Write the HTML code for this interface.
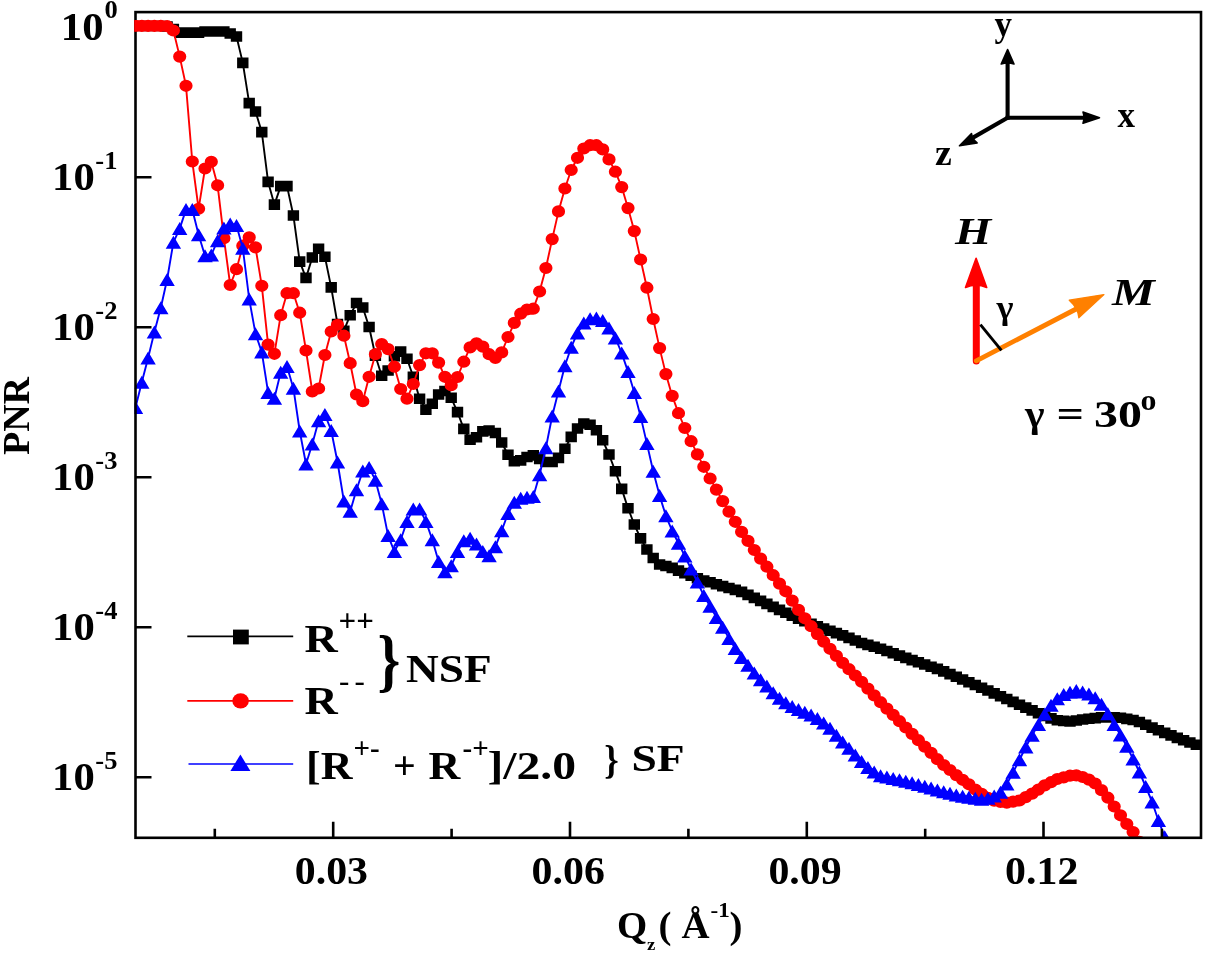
<!DOCTYPE html>
<html><head><meta charset="utf-8"><title>PNR</title>
<style>
html,body{margin:0;padding:0;background:#fff}
svg{display:block}
text{font-family:"Liberation Serif","DejaVu Serif",serif;font-weight:bold;fill:#000}
</style></head><body>
<svg width="1205" height="954" viewBox="0 0 1205 954">
<rect width="1205" height="954" fill="#fff"/>
<defs><clipPath id="cp"><rect x="134.5" y="12.1" width="1066.5" height="826.2"/></clipPath></defs>
<g clip-path="url(#cp)">
<polyline fill="none" stroke="#000" stroke-width="1.9" stroke-linejoin="round" points="135.5,26 141.8,26 148.1,26 154.4,26 160.8,26 167.1,26.5 173.4,29 179.7,32.6 186,32.6 192.3,32.6 198.6,32.6 205,31.5 211.3,31.5 217.6,31.5 223.9,31.5 230.2,33.5 236.5,36.5 242.8,62.9 249.2,103.1 255.5,111.5 261.8,132.1 268.1,181.9 274.4,204.6 280.7,186.1 287,186.1 293.4,215.5 299.7,261.6 306,277.9 312.3,257.5 318.6,248.8 324.9,256.7 331.2,287.4 337.5,324 343.9,330.7 350.2,315.2 356.5,303 362.8,307.5 369.1,327 375.4,355.8 381.7,375.8 388.1,370.5 394.4,356.2 400.7,351.6 407,358.8 413.3,376.8 419.6,398.7 425.9,409.6 432.3,403.7 438.6,394.5 444.9,391 451.2,397.8 457.5,412.1 463.8,428.9 470.1,439.8 476.5,437.2 482.8,431.4 489.1,430.5 495.4,433 501.7,442.5 508,454.7 514.3,461.2 520.7,460.4 527,457 533.3,455.4 539.6,459 545.9,462 552.2,462 558.5,457.9 564.9,448.7 571.2,436.9 577.5,428.5 583.8,423.5 590.1,424.8 596.4,430.2 602.7,440.3 609,454.5 615.4,471.3 621.7,488.9 628,508.2 634.3,524.5 640.6,538.4 646.9,549.5 653.2,558 659.6,564.5 665.9,566 672.2,567.9 678.5,570.6 684.8,573.1 691.1,575.7 697.4,578.3 703.8,580.5 710.1,582.3 716.4,584.2 722.7,586.1 729,588 735.3,589.9 741.6,591.9 748,594.9 754.3,597.9 760.6,600.9 766.9,603.9 773.2,606.9 779.5,609.9 785.8,612.8 792.2,615.7 798.5,618.6 804.8,621.2 811.1,623.7 817.4,626.2 823.7,628.6 830,630.8 836.4,633.1 842.7,635.4 849,637.9 855.3,640.5 861.6,643 867.9,644.9 874.2,646.8 880.6,648.7 886.9,651 893.2,653.3 899.5,655.6 905.8,657.9 912.1,660.1 918.4,662.3 924.8,664.5 931.1,666.7 937.4,668.9 943.7,671.4 950,674.1 956.3,676.8 962.6,679.5 968.9,682.2 975.3,685 981.6,687.8 987.9,690.5 994.2,693.4 1000.5,696.2 1006.8,699 1013.1,701.9 1019.5,704.7 1025.8,707.6 1032.1,710.4 1038.4,713.2 1044.7,716 1051,718.4 1057.3,720.2 1063.7,720.9 1070,721.5 1076.3,720.5 1082.6,719.5 1088.9,718.7 1095.2,718.1 1101.5,717.4 1107.9,717.4 1114.2,717.4 1120.5,717.8 1126.8,718.9 1133.1,720 1139.4,722 1145.7,724.8 1152.1,727.6 1158.4,730.3 1164.7,732.9 1171,735.4 1177.3,737.9 1183.6,740.2 1189.9,742.5 1196.3,744.8"/>
<path fill="#000" d="M129.8 20.7h11.4v10.6h-11.4zM136.1 20.7h11.4v10.6h-11.4zM142.4 20.7h11.4v10.6h-11.4zM148.7 20.7h11.4v10.6h-11.4zM155.1 20.7h11.4v10.6h-11.4zM161.4 21.2h11.4v10.6h-11.4zM167.7 23.7h11.4v10.6h-11.4zM174 27.3h11.4v10.6h-11.4zM180.3 27.3h11.4v10.6h-11.4zM186.6 27.3h11.4v10.6h-11.4zM192.9 27.3h11.4v10.6h-11.4zM199.3 26.2h11.4v10.6h-11.4zM205.6 26.2h11.4v10.6h-11.4zM211.9 26.2h11.4v10.6h-11.4zM218.2 26.2h11.4v10.6h-11.4zM224.5 28.2h11.4v10.6h-11.4zM230.8 31.2h11.4v10.6h-11.4zM237.1 57.6h11.4v10.6h-11.4zM243.5 97.8h11.4v10.6h-11.4zM249.8 106.2h11.4v10.6h-11.4zM256.1 126.8h11.4v10.6h-11.4zM262.4 176.6h11.4v10.6h-11.4zM268.7 199.3h11.4v10.6h-11.4zM275 180.8h11.4v10.6h-11.4zM281.3 180.8h11.4v10.6h-11.4zM287.7 210.2h11.4v10.6h-11.4zM294 256.3h11.4v10.6h-11.4zM300.3 272.6h11.4v10.6h-11.4zM306.6 252.2h11.4v10.6h-11.4zM312.9 243.5h11.4v10.6h-11.4zM319.2 251.4h11.4v10.6h-11.4zM325.5 282.1h11.4v10.6h-11.4zM331.8 318.7h11.4v10.6h-11.4zM338.2 325.4h11.4v10.6h-11.4zM344.5 309.9h11.4v10.6h-11.4zM350.8 297.7h11.4v10.6h-11.4zM357.1 302.2h11.4v10.6h-11.4zM363.4 321.7h11.4v10.6h-11.4zM369.7 350.5h11.4v10.6h-11.4zM376 370.5h11.4v10.6h-11.4zM382.4 365.2h11.4v10.6h-11.4zM388.7 350.9h11.4v10.6h-11.4zM395 346.3h11.4v10.6h-11.4zM401.3 353.5h11.4v10.6h-11.4zM407.6 371.5h11.4v10.6h-11.4zM413.9 393.4h11.4v10.6h-11.4zM420.2 404.3h11.4v10.6h-11.4zM426.6 398.4h11.4v10.6h-11.4zM432.9 389.2h11.4v10.6h-11.4zM439.2 385.7h11.4v10.6h-11.4zM445.5 392.5h11.4v10.6h-11.4zM451.8 406.8h11.4v10.6h-11.4zM458.1 423.6h11.4v10.6h-11.4zM464.4 434.5h11.4v10.6h-11.4zM470.8 431.9h11.4v10.6h-11.4zM477.1 426.1h11.4v10.6h-11.4zM483.4 425.2h11.4v10.6h-11.4zM489.7 427.7h11.4v10.6h-11.4zM496 437.2h11.4v10.6h-11.4zM502.3 449.4h11.4v10.6h-11.4zM508.6 455.9h11.4v10.6h-11.4zM515 455.1h11.4v10.6h-11.4zM521.3 451.7h11.4v10.6h-11.4zM527.6 450.1h11.4v10.6h-11.4zM533.9 453.7h11.4v10.6h-11.4zM540.2 456.7h11.4v10.6h-11.4zM546.5 456.7h11.4v10.6h-11.4zM552.8 452.6h11.4v10.6h-11.4zM559.2 443.4h11.4v10.6h-11.4zM565.5 431.6h11.4v10.6h-11.4zM571.8 423.2h11.4v10.6h-11.4zM578.1 418.2h11.4v10.6h-11.4zM584.4 419.5h11.4v10.6h-11.4zM590.7 424.9h11.4v10.6h-11.4zM597 435h11.4v10.6h-11.4zM603.3 449.2h11.4v10.6h-11.4zM609.7 466h11.4v10.6h-11.4zM616 483.6h11.4v10.6h-11.4zM622.3 502.9h11.4v10.6h-11.4zM628.6 519.2h11.4v10.6h-11.4zM634.9 533.1h11.4v10.6h-11.4zM641.2 544.2h11.4v10.6h-11.4zM647.5 552.7h11.4v10.6h-11.4zM653.9 559.2h11.4v10.6h-11.4zM660.2 560.7h11.4v10.6h-11.4zM666.5 562.6h11.4v10.6h-11.4zM672.8 565.3h11.4v10.6h-11.4zM679.1 567.8h11.4v10.6h-11.4zM685.4 570.4h11.4v10.6h-11.4zM691.7 573h11.4v10.6h-11.4zM698.1 575.2h11.4v10.6h-11.4zM704.4 577h11.4v10.6h-11.4zM710.7 578.9h11.4v10.6h-11.4zM717 580.8h11.4v10.6h-11.4zM723.3 582.7h11.4v10.6h-11.4zM729.6 584.6h11.4v10.6h-11.4zM735.9 586.6h11.4v10.6h-11.4zM742.3 589.6h11.4v10.6h-11.4zM748.6 592.6h11.4v10.6h-11.4zM754.9 595.6h11.4v10.6h-11.4zM761.2 598.6h11.4v10.6h-11.4zM767.5 601.6h11.4v10.6h-11.4zM773.8 604.6h11.4v10.6h-11.4zM780.1 607.5h11.4v10.6h-11.4zM786.5 610.4h11.4v10.6h-11.4zM792.8 613.3h11.4v10.6h-11.4zM799.1 615.9h11.4v10.6h-11.4zM805.4 618.4h11.4v10.6h-11.4zM811.7 620.9h11.4v10.6h-11.4zM818 623.3h11.4v10.6h-11.4zM824.3 625.5h11.4v10.6h-11.4zM830.7 627.8h11.4v10.6h-11.4zM837 630.1h11.4v10.6h-11.4zM843.3 632.6h11.4v10.6h-11.4zM849.6 635.2h11.4v10.6h-11.4zM855.9 637.7h11.4v10.6h-11.4zM862.2 639.6h11.4v10.6h-11.4zM868.5 641.5h11.4v10.6h-11.4zM874.9 643.4h11.4v10.6h-11.4zM881.2 645.7h11.4v10.6h-11.4zM887.5 648h11.4v10.6h-11.4zM893.8 650.3h11.4v10.6h-11.4zM900.1 652.6h11.4v10.6h-11.4zM906.4 654.8h11.4v10.6h-11.4zM912.7 657h11.4v10.6h-11.4zM919 659.2h11.4v10.6h-11.4zM925.4 661.4h11.4v10.6h-11.4zM931.7 663.6h11.4v10.6h-11.4zM938 666.1h11.4v10.6h-11.4zM944.3 668.8h11.4v10.6h-11.4zM950.6 671.5h11.4v10.6h-11.4zM956.9 674.2h11.4v10.6h-11.4zM963.2 676.9h11.4v10.6h-11.4zM969.6 679.7h11.4v10.6h-11.4zM975.9 682.5h11.4v10.6h-11.4zM982.2 685.2h11.4v10.6h-11.4zM988.5 688.1h11.4v10.6h-11.4zM994.8 690.9h11.4v10.6h-11.4zM1001.1 693.7h11.4v10.6h-11.4zM1007.4 696.6h11.4v10.6h-11.4zM1013.8 699.4h11.4v10.6h-11.4zM1020.1 702.3h11.4v10.6h-11.4zM1026.4 705.1h11.4v10.6h-11.4zM1032.7 707.9h11.4v10.6h-11.4zM1039 710.7h11.4v10.6h-11.4zM1045.3 713.1h11.4v10.6h-11.4zM1051.6 714.9h11.4v10.6h-11.4zM1058 715.6h11.4v10.6h-11.4zM1064.3 716.2h11.4v10.6h-11.4zM1070.6 715.2h11.4v10.6h-11.4zM1076.9 714.2h11.4v10.6h-11.4zM1083.2 713.4h11.4v10.6h-11.4zM1089.5 712.8h11.4v10.6h-11.4zM1095.8 712.1h11.4v10.6h-11.4zM1102.2 712.1h11.4v10.6h-11.4zM1108.5 712.1h11.4v10.6h-11.4zM1114.8 712.5h11.4v10.6h-11.4zM1121.1 713.6h11.4v10.6h-11.4zM1127.4 714.7h11.4v10.6h-11.4zM1133.7 716.7h11.4v10.6h-11.4zM1140 719.5h11.4v10.6h-11.4zM1146.4 722.3h11.4v10.6h-11.4zM1152.7 725h11.4v10.6h-11.4zM1159 727.6h11.4v10.6h-11.4zM1165.3 730.1h11.4v10.6h-11.4zM1171.6 732.6h11.4v10.6h-11.4zM1177.9 734.9h11.4v10.6h-11.4zM1184.2 737.2h11.4v10.6h-11.4zM1190.6 739.5h11.4v10.6h-11.4z"/>
<polyline fill="none" stroke="#f00" stroke-width="1.9" stroke-linejoin="round" points="135.5,25.9 141.8,25.9 148.1,25.9 154.4,25.9 160.8,25.9 167.1,26.2 173.4,30.5 179.7,56.6 186,85.8 192.3,161.5 198.6,208.8 205,168.5 211.3,161.8 217.6,185.3 223.9,238.2 230.2,285 236.5,269.2 242.8,245.7 249.2,237.3 255.5,247.4 261.8,285.8 268.1,344.6 274.4,353.8 280.7,315.2 287,293.2 293.4,293.2 299.7,312.7 306,350.5 312.3,391.5 318.6,388.5 324.9,355 331.2,331.5 337.5,324.8 343.9,335.7 350.2,363.2 356.5,394.5 362.8,401.2 369.1,376.8 375.4,354.2 381.7,344.1 388.1,349.1 394.4,366.7 400.7,389 407,398.7 413.3,384 419.6,365.1 425.9,353.3 432.3,353.3 438.6,362.6 444.9,376.8 451.2,385.2 457.5,377 463.8,361.7 470.1,347.4 476.5,343.3 482.8,346.6 489.1,354.2 495.4,358 501.7,352.4 508,337 514.3,322.9 520.7,313.7 527,309.5 533.3,308.7 539.6,291.5 545.9,268 552.2,239.1 558.5,211.4 564.9,188.5 571.2,170 577.5,157.8 583.8,148.5 590.1,145.2 596.4,145.2 602.7,149.4 609,159.4 615.4,171.7 621.7,187.1 628,208.1 634.3,231.1 640.6,259.5 646.9,287.7 653.2,319 659.6,348.1 665.9,374.1 672.2,395.9 678.5,413.2 684.8,428 691.1,441.2 697.4,454.4 703.8,466.8 710.1,478.5 716.4,489.6 722.7,501.1 729,511.7 735.3,521.8 741.6,531.9 748,540.9 754.3,550 760.6,558.6 766.9,566.7 773.2,575.2 779.5,583.6 785.8,591.3 792.2,600.6 798.5,609.9 804.8,618.3 811.1,626.2 817.4,634.1 823.7,641.7 830,648.8 836.4,655.9 842.7,662.9 849,669.2 855.3,675.5 861.6,681.8 867.9,688.6 874.2,695.4 880.6,702.2 886.9,708.6 893.2,714.9 899.5,721.2 905.8,727.5 912.1,733.9 918.4,740.2 924.8,746.6 931.1,752.9 937.4,759.2 943.7,765 950,770 956.3,775.1 962.6,779.8 968.9,784.3 975.3,789.5 981.6,793.8 987.9,797.9 994.2,800.6 1000.5,802 1006.8,802.7 1013.1,801.6 1019.5,800.5 1025.8,797.1 1032.1,793.7 1038.4,789.6 1044.7,785.4 1051,782.2 1057.3,779 1063.7,777.4 1070,775.7 1076.3,775.4 1082.6,777 1088.9,779.7 1095.2,783.5 1101.5,790.2 1107.9,797.7 1114.2,806.5 1120.5,815.3 1126.8,824 1133.1,832 1139.4,841.8 1145.7,852.5 1152.1,864.1 1158.4,876.7 1164.7,889.4"/>
<path fill="#f00" d="M128.9 25.9a6.6 6.1 0 1 0 13.2 0a6.6 6.1 0 1 0 -13.2 0zM135.2 25.9a6.6 6.1 0 1 0 13.2 0a6.6 6.1 0 1 0 -13.2 0zM141.5 25.9a6.6 6.1 0 1 0 13.2 0a6.6 6.1 0 1 0 -13.2 0zM147.8 25.9a6.6 6.1 0 1 0 13.2 0a6.6 6.1 0 1 0 -13.2 0zM154.2 25.9a6.6 6.1 0 1 0 13.2 0a6.6 6.1 0 1 0 -13.2 0zM160.5 26.2a6.6 6.1 0 1 0 13.2 0a6.6 6.1 0 1 0 -13.2 0zM166.8 30.5a6.6 6.1 0 1 0 13.2 0a6.6 6.1 0 1 0 -13.2 0zM173.1 56.6a6.6 6.1 0 1 0 13.2 0a6.6 6.1 0 1 0 -13.2 0zM179.4 85.8a6.6 6.1 0 1 0 13.2 0a6.6 6.1 0 1 0 -13.2 0zM185.7 161.5a6.6 6.1 0 1 0 13.2 0a6.6 6.1 0 1 0 -13.2 0zM192 208.8a6.6 6.1 0 1 0 13.2 0a6.6 6.1 0 1 0 -13.2 0zM198.4 168.5a6.6 6.1 0 1 0 13.2 0a6.6 6.1 0 1 0 -13.2 0zM204.7 161.8a6.6 6.1 0 1 0 13.2 0a6.6 6.1 0 1 0 -13.2 0zM211 185.3a6.6 6.1 0 1 0 13.2 0a6.6 6.1 0 1 0 -13.2 0zM217.3 238.2a6.6 6.1 0 1 0 13.2 0a6.6 6.1 0 1 0 -13.2 0zM223.6 285a6.6 6.1 0 1 0 13.2 0a6.6 6.1 0 1 0 -13.2 0zM229.9 269.2a6.6 6.1 0 1 0 13.2 0a6.6 6.1 0 1 0 -13.2 0zM236.2 245.7a6.6 6.1 0 1 0 13.2 0a6.6 6.1 0 1 0 -13.2 0zM242.6 237.3a6.6 6.1 0 1 0 13.2 0a6.6 6.1 0 1 0 -13.2 0zM248.9 247.4a6.6 6.1 0 1 0 13.2 0a6.6 6.1 0 1 0 -13.2 0zM255.2 285.8a6.6 6.1 0 1 0 13.2 0a6.6 6.1 0 1 0 -13.2 0zM261.5 344.6a6.6 6.1 0 1 0 13.2 0a6.6 6.1 0 1 0 -13.2 0zM267.8 353.8a6.6 6.1 0 1 0 13.2 0a6.6 6.1 0 1 0 -13.2 0zM274.1 315.2a6.6 6.1 0 1 0 13.2 0a6.6 6.1 0 1 0 -13.2 0zM280.4 293.2a6.6 6.1 0 1 0 13.2 0a6.6 6.1 0 1 0 -13.2 0zM286.8 293.2a6.6 6.1 0 1 0 13.2 0a6.6 6.1 0 1 0 -13.2 0zM293.1 312.7a6.6 6.1 0 1 0 13.2 0a6.6 6.1 0 1 0 -13.2 0zM299.4 350.5a6.6 6.1 0 1 0 13.2 0a6.6 6.1 0 1 0 -13.2 0zM305.7 391.5a6.6 6.1 0 1 0 13.2 0a6.6 6.1 0 1 0 -13.2 0zM312 388.5a6.6 6.1 0 1 0 13.2 0a6.6 6.1 0 1 0 -13.2 0zM318.3 355a6.6 6.1 0 1 0 13.2 0a6.6 6.1 0 1 0 -13.2 0zM324.6 331.5a6.6 6.1 0 1 0 13.2 0a6.6 6.1 0 1 0 -13.2 0zM330.9 324.8a6.6 6.1 0 1 0 13.2 0a6.6 6.1 0 1 0 -13.2 0zM337.3 335.7a6.6 6.1 0 1 0 13.2 0a6.6 6.1 0 1 0 -13.2 0zM343.6 363.2a6.6 6.1 0 1 0 13.2 0a6.6 6.1 0 1 0 -13.2 0zM349.9 394.5a6.6 6.1 0 1 0 13.2 0a6.6 6.1 0 1 0 -13.2 0zM356.2 401.2a6.6 6.1 0 1 0 13.2 0a6.6 6.1 0 1 0 -13.2 0zM362.5 376.8a6.6 6.1 0 1 0 13.2 0a6.6 6.1 0 1 0 -13.2 0zM368.8 354.2a6.6 6.1 0 1 0 13.2 0a6.6 6.1 0 1 0 -13.2 0zM375.1 344.1a6.6 6.1 0 1 0 13.2 0a6.6 6.1 0 1 0 -13.2 0zM381.5 349.1a6.6 6.1 0 1 0 13.2 0a6.6 6.1 0 1 0 -13.2 0zM387.8 366.7a6.6 6.1 0 1 0 13.2 0a6.6 6.1 0 1 0 -13.2 0zM394.1 389a6.6 6.1 0 1 0 13.2 0a6.6 6.1 0 1 0 -13.2 0zM400.4 398.7a6.6 6.1 0 1 0 13.2 0a6.6 6.1 0 1 0 -13.2 0zM406.7 384a6.6 6.1 0 1 0 13.2 0a6.6 6.1 0 1 0 -13.2 0zM413 365.1a6.6 6.1 0 1 0 13.2 0a6.6 6.1 0 1 0 -13.2 0zM419.3 353.3a6.6 6.1 0 1 0 13.2 0a6.6 6.1 0 1 0 -13.2 0zM425.7 353.3a6.6 6.1 0 1 0 13.2 0a6.6 6.1 0 1 0 -13.2 0zM432 362.6a6.6 6.1 0 1 0 13.2 0a6.6 6.1 0 1 0 -13.2 0zM438.3 376.8a6.6 6.1 0 1 0 13.2 0a6.6 6.1 0 1 0 -13.2 0zM444.6 385.2a6.6 6.1 0 1 0 13.2 0a6.6 6.1 0 1 0 -13.2 0zM450.9 377a6.6 6.1 0 1 0 13.2 0a6.6 6.1 0 1 0 -13.2 0zM457.2 361.7a6.6 6.1 0 1 0 13.2 0a6.6 6.1 0 1 0 -13.2 0zM463.5 347.4a6.6 6.1 0 1 0 13.2 0a6.6 6.1 0 1 0 -13.2 0zM469.9 343.3a6.6 6.1 0 1 0 13.2 0a6.6 6.1 0 1 0 -13.2 0zM476.2 346.6a6.6 6.1 0 1 0 13.2 0a6.6 6.1 0 1 0 -13.2 0zM482.5 354.2a6.6 6.1 0 1 0 13.2 0a6.6 6.1 0 1 0 -13.2 0zM488.8 358a6.6 6.1 0 1 0 13.2 0a6.6 6.1 0 1 0 -13.2 0zM495.1 352.4a6.6 6.1 0 1 0 13.2 0a6.6 6.1 0 1 0 -13.2 0zM501.4 337a6.6 6.1 0 1 0 13.2 0a6.6 6.1 0 1 0 -13.2 0zM507.7 322.9a6.6 6.1 0 1 0 13.2 0a6.6 6.1 0 1 0 -13.2 0zM514.1 313.7a6.6 6.1 0 1 0 13.2 0a6.6 6.1 0 1 0 -13.2 0zM520.4 309.5a6.6 6.1 0 1 0 13.2 0a6.6 6.1 0 1 0 -13.2 0zM526.7 308.7a6.6 6.1 0 1 0 13.2 0a6.6 6.1 0 1 0 -13.2 0zM533 291.5a6.6 6.1 0 1 0 13.2 0a6.6 6.1 0 1 0 -13.2 0zM539.3 268a6.6 6.1 0 1 0 13.2 0a6.6 6.1 0 1 0 -13.2 0zM545.6 239.1a6.6 6.1 0 1 0 13.2 0a6.6 6.1 0 1 0 -13.2 0zM551.9 211.4a6.6 6.1 0 1 0 13.2 0a6.6 6.1 0 1 0 -13.2 0zM558.3 188.5a6.6 6.1 0 1 0 13.2 0a6.6 6.1 0 1 0 -13.2 0zM564.6 170a6.6 6.1 0 1 0 13.2 0a6.6 6.1 0 1 0 -13.2 0zM570.9 157.8a6.6 6.1 0 1 0 13.2 0a6.6 6.1 0 1 0 -13.2 0zM577.2 148.5a6.6 6.1 0 1 0 13.2 0a6.6 6.1 0 1 0 -13.2 0zM583.5 145.2a6.6 6.1 0 1 0 13.2 0a6.6 6.1 0 1 0 -13.2 0zM589.8 145.2a6.6 6.1 0 1 0 13.2 0a6.6 6.1 0 1 0 -13.2 0zM596.1 149.4a6.6 6.1 0 1 0 13.2 0a6.6 6.1 0 1 0 -13.2 0zM602.4 159.4a6.6 6.1 0 1 0 13.2 0a6.6 6.1 0 1 0 -13.2 0zM608.8 171.7a6.6 6.1 0 1 0 13.2 0a6.6 6.1 0 1 0 -13.2 0zM615.1 187.1a6.6 6.1 0 1 0 13.2 0a6.6 6.1 0 1 0 -13.2 0zM621.4 208.1a6.6 6.1 0 1 0 13.2 0a6.6 6.1 0 1 0 -13.2 0zM627.7 231.1a6.6 6.1 0 1 0 13.2 0a6.6 6.1 0 1 0 -13.2 0zM634 259.5a6.6 6.1 0 1 0 13.2 0a6.6 6.1 0 1 0 -13.2 0zM640.3 287.7a6.6 6.1 0 1 0 13.2 0a6.6 6.1 0 1 0 -13.2 0zM646.6 319a6.6 6.1 0 1 0 13.2 0a6.6 6.1 0 1 0 -13.2 0zM653 348.1a6.6 6.1 0 1 0 13.2 0a6.6 6.1 0 1 0 -13.2 0zM659.3 374.1a6.6 6.1 0 1 0 13.2 0a6.6 6.1 0 1 0 -13.2 0zM665.6 395.9a6.6 6.1 0 1 0 13.2 0a6.6 6.1 0 1 0 -13.2 0zM671.9 413.2a6.6 6.1 0 1 0 13.2 0a6.6 6.1 0 1 0 -13.2 0zM678.2 428a6.6 6.1 0 1 0 13.2 0a6.6 6.1 0 1 0 -13.2 0zM684.5 441.2a6.6 6.1 0 1 0 13.2 0a6.6 6.1 0 1 0 -13.2 0zM690.8 454.4a6.6 6.1 0 1 0 13.2 0a6.6 6.1 0 1 0 -13.2 0zM697.2 466.8a6.6 6.1 0 1 0 13.2 0a6.6 6.1 0 1 0 -13.2 0zM703.5 478.5a6.6 6.1 0 1 0 13.2 0a6.6 6.1 0 1 0 -13.2 0zM709.8 489.6a6.6 6.1 0 1 0 13.2 0a6.6 6.1 0 1 0 -13.2 0zM716.1 501.1a6.6 6.1 0 1 0 13.2 0a6.6 6.1 0 1 0 -13.2 0zM722.4 511.7a6.6 6.1 0 1 0 13.2 0a6.6 6.1 0 1 0 -13.2 0zM728.7 521.8a6.6 6.1 0 1 0 13.2 0a6.6 6.1 0 1 0 -13.2 0zM735 531.9a6.6 6.1 0 1 0 13.2 0a6.6 6.1 0 1 0 -13.2 0zM741.4 540.9a6.6 6.1 0 1 0 13.2 0a6.6 6.1 0 1 0 -13.2 0zM747.7 550a6.6 6.1 0 1 0 13.2 0a6.6 6.1 0 1 0 -13.2 0zM754 558.6a6.6 6.1 0 1 0 13.2 0a6.6 6.1 0 1 0 -13.2 0zM760.3 566.7a6.6 6.1 0 1 0 13.2 0a6.6 6.1 0 1 0 -13.2 0zM766.6 575.2a6.6 6.1 0 1 0 13.2 0a6.6 6.1 0 1 0 -13.2 0zM772.9 583.6a6.6 6.1 0 1 0 13.2 0a6.6 6.1 0 1 0 -13.2 0zM779.2 591.3a6.6 6.1 0 1 0 13.2 0a6.6 6.1 0 1 0 -13.2 0zM785.6 600.6a6.6 6.1 0 1 0 13.2 0a6.6 6.1 0 1 0 -13.2 0zM791.9 609.9a6.6 6.1 0 1 0 13.2 0a6.6 6.1 0 1 0 -13.2 0zM798.2 618.3a6.6 6.1 0 1 0 13.2 0a6.6 6.1 0 1 0 -13.2 0zM804.5 626.2a6.6 6.1 0 1 0 13.2 0a6.6 6.1 0 1 0 -13.2 0zM810.8 634.1a6.6 6.1 0 1 0 13.2 0a6.6 6.1 0 1 0 -13.2 0zM817.1 641.7a6.6 6.1 0 1 0 13.2 0a6.6 6.1 0 1 0 -13.2 0zM823.4 648.8a6.6 6.1 0 1 0 13.2 0a6.6 6.1 0 1 0 -13.2 0zM829.8 655.9a6.6 6.1 0 1 0 13.2 0a6.6 6.1 0 1 0 -13.2 0zM836.1 662.9a6.6 6.1 0 1 0 13.2 0a6.6 6.1 0 1 0 -13.2 0zM842.4 669.2a6.6 6.1 0 1 0 13.2 0a6.6 6.1 0 1 0 -13.2 0zM848.7 675.5a6.6 6.1 0 1 0 13.2 0a6.6 6.1 0 1 0 -13.2 0zM855 681.8a6.6 6.1 0 1 0 13.2 0a6.6 6.1 0 1 0 -13.2 0zM861.3 688.6a6.6 6.1 0 1 0 13.2 0a6.6 6.1 0 1 0 -13.2 0zM867.6 695.4a6.6 6.1 0 1 0 13.2 0a6.6 6.1 0 1 0 -13.2 0zM874 702.2a6.6 6.1 0 1 0 13.2 0a6.6 6.1 0 1 0 -13.2 0zM880.3 708.6a6.6 6.1 0 1 0 13.2 0a6.6 6.1 0 1 0 -13.2 0zM886.6 714.9a6.6 6.1 0 1 0 13.2 0a6.6 6.1 0 1 0 -13.2 0zM892.9 721.2a6.6 6.1 0 1 0 13.2 0a6.6 6.1 0 1 0 -13.2 0zM899.2 727.5a6.6 6.1 0 1 0 13.2 0a6.6 6.1 0 1 0 -13.2 0zM905.5 733.9a6.6 6.1 0 1 0 13.2 0a6.6 6.1 0 1 0 -13.2 0zM911.8 740.2a6.6 6.1 0 1 0 13.2 0a6.6 6.1 0 1 0 -13.2 0zM918.1 746.6a6.6 6.1 0 1 0 13.2 0a6.6 6.1 0 1 0 -13.2 0zM924.5 752.9a6.6 6.1 0 1 0 13.2 0a6.6 6.1 0 1 0 -13.2 0zM930.8 759.2a6.6 6.1 0 1 0 13.2 0a6.6 6.1 0 1 0 -13.2 0zM937.1 765a6.6 6.1 0 1 0 13.2 0a6.6 6.1 0 1 0 -13.2 0zM943.4 770a6.6 6.1 0 1 0 13.2 0a6.6 6.1 0 1 0 -13.2 0zM949.7 775.1a6.6 6.1 0 1 0 13.2 0a6.6 6.1 0 1 0 -13.2 0zM956 779.8a6.6 6.1 0 1 0 13.2 0a6.6 6.1 0 1 0 -13.2 0zM962.3 784.3a6.6 6.1 0 1 0 13.2 0a6.6 6.1 0 1 0 -13.2 0zM968.7 789.5a6.6 6.1 0 1 0 13.2 0a6.6 6.1 0 1 0 -13.2 0zM975 793.8a6.6 6.1 0 1 0 13.2 0a6.6 6.1 0 1 0 -13.2 0zM981.3 797.9a6.6 6.1 0 1 0 13.2 0a6.6 6.1 0 1 0 -13.2 0zM987.6 800.6a6.6 6.1 0 1 0 13.2 0a6.6 6.1 0 1 0 -13.2 0zM993.9 802a6.6 6.1 0 1 0 13.2 0a6.6 6.1 0 1 0 -13.2 0zM1000.2 802.7a6.6 6.1 0 1 0 13.2 0a6.6 6.1 0 1 0 -13.2 0zM1006.5 801.6a6.6 6.1 0 1 0 13.2 0a6.6 6.1 0 1 0 -13.2 0zM1012.9 800.5a6.6 6.1 0 1 0 13.2 0a6.6 6.1 0 1 0 -13.2 0zM1019.2 797.1a6.6 6.1 0 1 0 13.2 0a6.6 6.1 0 1 0 -13.2 0zM1025.5 793.7a6.6 6.1 0 1 0 13.2 0a6.6 6.1 0 1 0 -13.2 0zM1031.8 789.6a6.6 6.1 0 1 0 13.2 0a6.6 6.1 0 1 0 -13.2 0zM1038.1 785.4a6.6 6.1 0 1 0 13.2 0a6.6 6.1 0 1 0 -13.2 0zM1044.4 782.2a6.6 6.1 0 1 0 13.2 0a6.6 6.1 0 1 0 -13.2 0zM1050.7 779a6.6 6.1 0 1 0 13.2 0a6.6 6.1 0 1 0 -13.2 0zM1057.1 777.4a6.6 6.1 0 1 0 13.2 0a6.6 6.1 0 1 0 -13.2 0zM1063.4 775.7a6.6 6.1 0 1 0 13.2 0a6.6 6.1 0 1 0 -13.2 0zM1069.7 775.4a6.6 6.1 0 1 0 13.2 0a6.6 6.1 0 1 0 -13.2 0zM1076 777a6.6 6.1 0 1 0 13.2 0a6.6 6.1 0 1 0 -13.2 0zM1082.3 779.7a6.6 6.1 0 1 0 13.2 0a6.6 6.1 0 1 0 -13.2 0zM1088.6 783.5a6.6 6.1 0 1 0 13.2 0a6.6 6.1 0 1 0 -13.2 0zM1094.9 790.2a6.6 6.1 0 1 0 13.2 0a6.6 6.1 0 1 0 -13.2 0zM1101.3 797.7a6.6 6.1 0 1 0 13.2 0a6.6 6.1 0 1 0 -13.2 0zM1107.6 806.5a6.6 6.1 0 1 0 13.2 0a6.6 6.1 0 1 0 -13.2 0zM1113.9 815.3a6.6 6.1 0 1 0 13.2 0a6.6 6.1 0 1 0 -13.2 0zM1120.2 824a6.6 6.1 0 1 0 13.2 0a6.6 6.1 0 1 0 -13.2 0zM1126.5 832a6.6 6.1 0 1 0 13.2 0a6.6 6.1 0 1 0 -13.2 0zM1132.8 841.8a6.6 6.1 0 1 0 13.2 0a6.6 6.1 0 1 0 -13.2 0zM1139.1 852.5a6.6 6.1 0 1 0 13.2 0a6.6 6.1 0 1 0 -13.2 0z"/>
<polyline fill="none" stroke="#00f" stroke-width="1.9" stroke-linejoin="round" points="135.5,407.5 141.8,382.3 148.1,358 154.4,332 160.8,307.7 167.1,279.5 173.4,242.3 179.7,228.6 186,209.6 192.3,209.6 198.6,234.8 205,255.8 211.3,254.9 217.6,240.7 223.9,228.1 230.2,223.9 236.5,225.6 242.8,248.2 249.2,299 255.5,333.7 261.8,352.1 268.1,392.4 274.4,398.3 280.7,372.3 287,366.4 293.4,388.2 299.7,431 306,464 312.3,444 318.6,420.7 324.9,414.4 331.2,430.5 337.5,462 343.9,501.1 350.2,511.3 356.5,489.8 362.8,471 369.1,467.6 375.4,480.2 381.7,503.7 388.1,535.6 394.4,551.6 400.7,539.8 407,521.4 413.3,509 419.6,509 425.9,521.4 432.3,539.8 438.6,561.6 444.9,571.7 451.2,565.8 457.5,551.6 463.8,540.7 470.1,538.2 476.5,544 482.8,551.6 489.1,555.8 495.4,546.7 501.7,530.7 508,513.5 514.3,502.3 520.7,498.2 527,497.3 533.3,496.5 539.6,474.7 545.9,447.8 552.2,416 558.5,390.9 564.9,365.7 571.2,347.2 577.5,333 583.8,322.9 590.1,318.7 596.4,317.9 602.7,320.4 609,328 615.4,338 621.7,353.1 628,371.6 634.3,392.6 640.6,416.4 646.9,443.6 653.2,471.3 659.6,495.6 665.9,515.8 672.2,531 678.5,543.2 684.8,556 691.1,569 697.4,582 703.8,595.6 710.1,606.2 716.4,617.4 722.7,627.2 729,638.4 735.3,648.6 741.6,657.5 748,665.2 754.3,672.9 760.6,679.8 766.9,685.9 773.2,692.8 779.5,698.2 785.8,702.8 792.2,706.5 798.5,709.4 804.8,712.2 811.1,714.9 817.4,718.4 823.7,722.9 830,728.3 836.4,735.2 842.7,742 849,748.3 855.3,754.9 861.6,761.4 867.9,767.4 874.2,772.1 880.6,775.8 886.9,777.1 893.2,778.4 899.5,779.7 905.8,781.2 912.1,782.8 918.4,784.4 924.8,786.2 931.1,788.1 937.4,790 943.7,791.7 950,793.3 956.3,794.9 962.6,796.3 968.9,797.3 975.3,798.3 981.6,799.2 987.9,798.2 994.2,796.1 1000.5,792.3 1006.8,784.1 1013.1,772.3 1019.5,759.7 1025.8,747 1032.1,735.3 1038.4,724.5 1044.7,713.9 1051,705.3 1057.3,698.7 1063.7,694.6 1070,692.2 1076.3,690.6 1082.6,691.9 1088.9,694 1095.2,697.8 1101.5,704.2 1107.9,713.8 1114.2,724.6 1120.5,735 1126.8,746.3 1133.1,759 1139.4,772 1145.7,786.5 1152.1,801.9 1158.4,820.5 1164.7,836.7 1171,857.6 1177.3,878.9"/>
<path fill="#00f" d="M135.5 401l7.7 13h-15.4zM141.8 375.8l7.7 13h-15.4zM148.1 351.5l7.7 13h-15.4zM154.4 325.5l7.7 13h-15.4zM160.8 301.2l7.7 13h-15.4zM167.1 273l7.7 13h-15.4zM173.4 235.8l7.7 13h-15.4zM179.7 222.1l7.7 13h-15.4zM186 203.1l7.7 13h-15.4zM192.3 203.1l7.7 13h-15.4zM198.6 228.3l7.7 13h-15.4zM205 249.3l7.7 13h-15.4zM211.3 248.4l7.7 13h-15.4zM217.6 234.2l7.7 13h-15.4zM223.9 221.6l7.7 13h-15.4zM230.2 217.4l7.7 13h-15.4zM236.5 219.1l7.7 13h-15.4zM242.8 241.7l7.7 13h-15.4zM249.2 292.5l7.7 13h-15.4zM255.5 327.2l7.7 13h-15.4zM261.8 345.6l7.7 13h-15.4zM268.1 385.9l7.7 13h-15.4zM274.4 391.8l7.7 13h-15.4zM280.7 365.8l7.7 13h-15.4zM287 359.9l7.7 13h-15.4zM293.4 381.7l7.7 13h-15.4zM299.7 424.5l7.7 13h-15.4zM306 457.5l7.7 13h-15.4zM312.3 437.5l7.7 13h-15.4zM318.6 414.2l7.7 13h-15.4zM324.9 407.9l7.7 13h-15.4zM331.2 424l7.7 13h-15.4zM337.5 455.5l7.7 13h-15.4zM343.9 494.6l7.7 13h-15.4zM350.2 504.8l7.7 13h-15.4zM356.5 483.3l7.7 13h-15.4zM362.8 464.5l7.7 13h-15.4zM369.1 461.1l7.7 13h-15.4zM375.4 473.7l7.7 13h-15.4zM381.7 497.2l7.7 13h-15.4zM388.1 529.1l7.7 13h-15.4zM394.4 545.1l7.7 13h-15.4zM400.7 533.3l7.7 13h-15.4zM407 514.9l7.7 13h-15.4zM413.3 502.5l7.7 13h-15.4zM419.6 502.5l7.7 13h-15.4zM425.9 514.9l7.7 13h-15.4zM432.3 533.3l7.7 13h-15.4zM438.6 555.1l7.7 13h-15.4zM444.9 565.2l7.7 13h-15.4zM451.2 559.3l7.7 13h-15.4zM457.5 545.1l7.7 13h-15.4zM463.8 534.2l7.7 13h-15.4zM470.1 531.7l7.7 13h-15.4zM476.5 537.5l7.7 13h-15.4zM482.8 545.1l7.7 13h-15.4zM489.1 549.3l7.7 13h-15.4zM495.4 540.2l7.7 13h-15.4zM501.7 524.2l7.7 13h-15.4zM508 507l7.7 13h-15.4zM514.3 495.8l7.7 13h-15.4zM520.7 491.7l7.7 13h-15.4zM527 490.8l7.7 13h-15.4zM533.3 490l7.7 13h-15.4zM539.6 468.2l7.7 13h-15.4zM545.9 441.3l7.7 13h-15.4zM552.2 409.5l7.7 13h-15.4zM558.5 384.4l7.7 13h-15.4zM564.9 359.2l7.7 13h-15.4zM571.2 340.7l7.7 13h-15.4zM577.5 326.5l7.7 13h-15.4zM583.8 316.4l7.7 13h-15.4zM590.1 312.2l7.7 13h-15.4zM596.4 311.4l7.7 13h-15.4zM602.7 313.9l7.7 13h-15.4zM609 321.5l7.7 13h-15.4zM615.4 331.5l7.7 13h-15.4zM621.7 346.6l7.7 13h-15.4zM628 365.1l7.7 13h-15.4zM634.3 386.1l7.7 13h-15.4zM640.6 409.9l7.7 13h-15.4zM646.9 437.1l7.7 13h-15.4zM653.2 464.8l7.7 13h-15.4zM659.6 489.1l7.7 13h-15.4zM665.9 509.3l7.7 13h-15.4zM672.2 524.5l7.7 13h-15.4zM678.5 536.7l7.7 13h-15.4zM684.8 549.5l7.7 13h-15.4zM691.1 562.5l7.7 13h-15.4zM697.4 575.5l7.7 13h-15.4zM703.8 589.1l7.7 13h-15.4zM710.1 599.7l7.7 13h-15.4zM716.4 610.9l7.7 13h-15.4zM722.7 620.7l7.7 13h-15.4zM729 631.9l7.7 13h-15.4zM735.3 642.1l7.7 13h-15.4zM741.6 651l7.7 13h-15.4zM748 658.7l7.7 13h-15.4zM754.3 666.4l7.7 13h-15.4zM760.6 673.3l7.7 13h-15.4zM766.9 679.4l7.7 13h-15.4zM773.2 686.3l7.7 13h-15.4zM779.5 691.7l7.7 13h-15.4zM785.8 696.3l7.7 13h-15.4zM792.2 700l7.7 13h-15.4zM798.5 702.9l7.7 13h-15.4zM804.8 705.7l7.7 13h-15.4zM811.1 708.4l7.7 13h-15.4zM817.4 711.9l7.7 13h-15.4zM823.7 716.4l7.7 13h-15.4zM830 721.8l7.7 13h-15.4zM836.4 728.7l7.7 13h-15.4zM842.7 735.5l7.7 13h-15.4zM849 741.8l7.7 13h-15.4zM855.3 748.4l7.7 13h-15.4zM861.6 754.9l7.7 13h-15.4zM867.9 760.9l7.7 13h-15.4zM874.2 765.6l7.7 13h-15.4zM880.6 769.3l7.7 13h-15.4zM886.9 770.6l7.7 13h-15.4zM893.2 771.9l7.7 13h-15.4zM899.5 773.2l7.7 13h-15.4zM905.8 774.7l7.7 13h-15.4zM912.1 776.3l7.7 13h-15.4zM918.4 777.9l7.7 13h-15.4zM924.8 779.7l7.7 13h-15.4zM931.1 781.6l7.7 13h-15.4zM937.4 783.5l7.7 13h-15.4zM943.7 785.2l7.7 13h-15.4zM950 786.8l7.7 13h-15.4zM956.3 788.4l7.7 13h-15.4zM962.6 789.8l7.7 13h-15.4zM968.9 790.8l7.7 13h-15.4zM975.3 791.8l7.7 13h-15.4zM981.6 792.7l7.7 13h-15.4zM987.9 791.7l7.7 13h-15.4zM994.2 789.6l7.7 13h-15.4zM1000.5 785.8l7.7 13h-15.4zM1006.8 777.6l7.7 13h-15.4zM1013.1 765.8l7.7 13h-15.4zM1019.5 753.2l7.7 13h-15.4zM1025.8 740.5l7.7 13h-15.4zM1032.1 728.8l7.7 13h-15.4zM1038.4 718l7.7 13h-15.4zM1044.7 707.4l7.7 13h-15.4zM1051 698.8l7.7 13h-15.4zM1057.3 692.2l7.7 13h-15.4zM1063.7 688.1l7.7 13h-15.4zM1070 685.7l7.7 13h-15.4zM1076.3 684.1l7.7 13h-15.4zM1082.6 685.4l7.7 13h-15.4zM1088.9 687.5l7.7 13h-15.4zM1095.2 691.3l7.7 13h-15.4zM1101.5 697.7l7.7 13h-15.4zM1107.9 707.3l7.7 13h-15.4zM1114.2 718.1l7.7 13h-15.4zM1120.5 728.5l7.7 13h-15.4zM1126.8 739.8l7.7 13h-15.4zM1133.1 752.5l7.7 13h-15.4zM1139.4 765.5l7.7 13h-15.4zM1145.7 780l7.7 13h-15.4zM1152.1 795.4l7.7 13h-15.4zM1158.4 814l7.7 13h-15.4zM1164.7 830.2l7.7 13h-15.4zM1171 851.1l7.7 13h-15.4z"/>
</g>
<rect x="135.5" y="12.1" width="1065.5" height="825.7" fill="none" stroke="#000" stroke-width="2.6"/>
<path d="M135.5 177.3h16M135.5 327.3h16M135.5 477.3h16M135.5 627.3h16M135.5 777.3h16M214.8 837.8v-9M333.2 837.8v-16M451.6 837.8v-9M570 837.8v-16M688.4 837.8v-9M806.8 837.8v-16M925.2 837.8v-9M1043.5 837.8v-16M1161.9 837.8v-9" stroke="#000" stroke-width="2.6" fill="none"/>
<rect x="134.2" y="20.0" width="3" height="11.8" fill="#f00"/>

<path d="M187.3 636.3H293.2" stroke="#000" stroke-width="1.7"/>
<rect x="233" y="629.6" width="15.8" height="14.8" fill="#000"/>
<path d="M187.3 700.8H293.2" stroke="#f00" stroke-width="1.7"/>
<ellipse cx="240.6" cy="700.8" rx="8.3" ry="7.6" fill="#f00"/>
<path d="M188.5 764H293.2" stroke="#00f" stroke-width="1.7"/>
<path d="M240.4 754.5l10 16.5h-20z" fill="#00f"/>


<g stroke="#000" stroke-width="4.1" fill="none" stroke-linecap="butt">
<path d="M1007.6 119.7V62"/><path d="M1005.6 117.7H1084"/><path d="M1007.6 117.7L973 137.6"/>
</g>
<g fill="#000" stroke="#000" stroke-width="1.6" stroke-linejoin="round">
<path d="M1007.6 49.5l6.4 14.5q-6.4-2-12.8 0z"/>
<path d="M1099.5 117.7l-16.5 5.6q2-5.6 0-11.2z"/>
<path d="M959.5 145.8l12-12.3q0.6 5.4 5.6 9.4z"/>
</g>
<path d="M976.3 361V283" stroke="#f00" stroke-width="7" fill="none" stroke-linecap="round"/>
<path d="M976.1 258.2l10.6 29.3q-10.6-4.5-21.2 0z" fill="#f00" stroke="#f00" stroke-width="1.6" stroke-linejoin="round"/>
<path d="M976.3 360.8L1080 307" stroke="#ff8000" stroke-width="4.8" fill="none" stroke-linecap="round"/>
<path d="M1104 294.6l-25.2 23.2q-0.5-9.5-9.6-17.6z" fill="#ff8000" stroke="#ff8000" stroke-width="1.2" stroke-linejoin="round"/>
<path d="M980.4 324.6L1001.4 350.4" stroke="#000" stroke-width="2.9" fill="none"/>

<text transform="translate(60.8 39.5) scale(1.08 1)" text-anchor="start" style="font-size:39.5px;">10</text>
<text transform="translate(104.4 18.200000000000003) scale(1.04 1)" text-anchor="start" style="font-size:25.5px;">0</text>
<text transform="translate(52.1 190.2) scale(1.08 1)" text-anchor="start" style="font-size:39.5px;">10</text>
<text transform="translate(95.3 168.89999999999998) scale(1.04 1)" text-anchor="start" style="font-size:25.5px;">-1</text>
<text transform="translate(52.1 340.2) scale(1.08 1)" text-anchor="start" style="font-size:39.5px;">10</text>
<text transform="translate(95.3 318.9) scale(1.04 1)" text-anchor="start" style="font-size:25.5px;">-2</text>
<text transform="translate(52.1 490.2) scale(1.08 1)" text-anchor="start" style="font-size:39.5px;">10</text>
<text transform="translate(95.3 468.9) scale(1.04 1)" text-anchor="start" style="font-size:25.5px;">-3</text>
<text transform="translate(52.1 640.2) scale(1.08 1)" text-anchor="start" style="font-size:39.5px;">10</text>
<text transform="translate(95.3 618.9000000000001) scale(1.04 1)" text-anchor="start" style="font-size:25.5px;">-4</text>
<text transform="translate(52.1 790.2) scale(1.08 1)" text-anchor="start" style="font-size:39.5px;">10</text>
<text transform="translate(95.3 768.9000000000001) scale(1.04 1)" text-anchor="start" style="font-size:25.5px;">-5</text>
<text transform="translate(331.4 884) scale(1.06 1)" text-anchor="middle" style="font-size:39.5px;">0.03</text>
<text transform="translate(568.2 884) scale(1.06 1)" text-anchor="middle" style="font-size:39.5px;">0.06</text>
<text transform="translate(805.0 884) scale(1.06 1)" text-anchor="middle" style="font-size:39.5px;">0.09</text>
<text transform="translate(1041.7 884) scale(1.06 1)" text-anchor="middle" style="font-size:39.5px;">0.12</text>
<text transform="translate(29 416) rotate(-90)" text-anchor="middle" style="font-size:38px">PNR</text>
<text transform="translate(617 938) scale(1.05 1)" text-anchor="start" style="font-size:37px;">Q</text>
<text transform="translate(647 949.5) scale(1.1 1)" text-anchor="start" style="font-size:17px;">z</text>
<text transform="translate(658.5 937.5) scale(1.05 1)" text-anchor="start" style="font-size:37px;">(</text>
<text transform="translate(681.5 938) scale(1.05 1)" text-anchor="start" style="font-size:37px;">Å</text>
<text transform="translate(710.5 916.5) scale(1.1 1)" text-anchor="start" style="font-size:21px;">-1</text>
<text transform="translate(729.5 937.5) scale(1.05 1)" text-anchor="start" style="font-size:37px;">)</text>
<text transform="translate(304.5 651.5) scale(1.15 1)" text-anchor="start" style="font-size:40px;">R</text>
<text transform="translate(338.5 630.5) scale(1.0 1)" text-anchor="start" style="font-size:31px;">++</text>
<text transform="translate(304.5 713.6) scale(1.15 1)" text-anchor="start" style="font-size:40px;">R</text>
<text transform="translate(339 690) scale(1.15 1)" text-anchor="start" style="font-size:27px;">-</text>
<text transform="translate(354.5 690) scale(1.15 1)" text-anchor="start" style="font-size:27px;">-</text>
<text transform="translate(377.4 684.1) scale(0.84 1)" text-anchor="start" style="font-size:69px;">}</text>
<text transform="translate(406 681.6) scale(1.12 1)" text-anchor="start" style="font-size:40.5px;">NSF</text>
<text transform="translate(306 779.4) scale(1.1 1)" text-anchor="start" style="font-size:40px;">[R</text>
<text transform="translate(353.5 757.5) scale(1.0 1)" text-anchor="start" style="font-size:29px;">+-</text>
<text transform="translate(393 779.4) scale(1.0 1)" text-anchor="start" style="font-size:40px;">+</text>
<text transform="translate(428.5 779.4) scale(1.1 1)" text-anchor="start" style="font-size:40px;">R</text>
<text transform="translate(462.5 757.5) scale(1.0 1)" text-anchor="start" style="font-size:29px;">-+</text>
<text transform="translate(487.5 779.4) scale(1.19 1)" text-anchor="start" style="font-size:40px;">]/2.0</text>
<text transform="translate(604.3 772.9) scale(0.93 1)" text-anchor="start" style="font-size:39.5px;">}</text>
<text transform="translate(631.5 770.5) scale(1.2 1)" text-anchor="start" style="font-size:38px;">SF</text>
<text transform="translate(994.5 36) scale(1.0 1)" text-anchor="start" style="font-size:35px;">y</text>
<text transform="translate(1117.5 126.5) scale(1.0 1)" text-anchor="start" style="font-size:35px;">x</text>
<text transform="translate(935 164.5) scale(1.05 1)" text-anchor="start" style="font-size:36px;">z</text>
<text transform="translate(955 243.6) scale(1.26 1)" text-anchor="start" style="font-size:37px;font-style:italic;">H</text>
<text transform="translate(1112 305) scale(1.3 1)" text-anchor="start" style="font-size:37px;font-style:italic;">M</text>
<text transform="translate(996.5 318.5) scale(1.1 1)" text-anchor="start" style="font-size:33px;">γ</text>
<text transform="translate(1025 427) scale(1.1 1)" text-anchor="start" style="font-size:38px;">γ</text>
<text transform="translate(1056.5 427) scale(1.27 1)" text-anchor="start" style="font-size:38px;">=</text>
<text transform="translate(1094 427) scale(1.26 1)" text-anchor="start" style="font-size:38px;">30</text>
<text transform="translate(1140.5 409.5) scale(1.1 1)" text-anchor="start" style="font-size:29px;">o</text>
</svg>
</body></html>
